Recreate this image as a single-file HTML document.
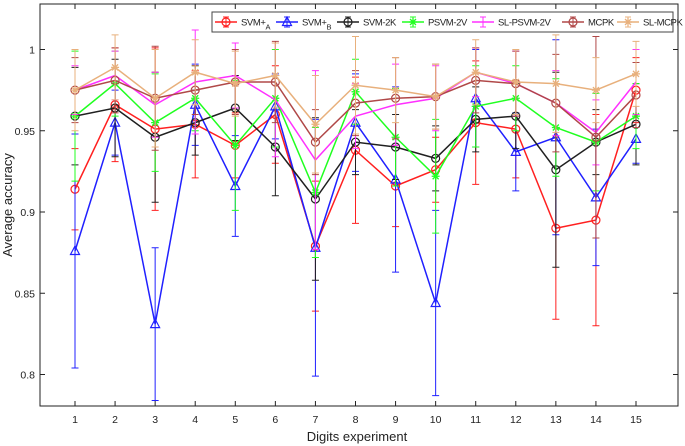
<!DOCTYPE html>
<html><head><meta charset="utf-8"><style>
html,body{margin:0;padding:0;background:#fff;width:685px;height:446px;overflow:hidden}
svg{font-family:"Liberation Sans",sans-serif}
</style></head><body>
<svg id="chart" width="685" height="446" viewBox="0 0 685 446"></svg>
<script>
const categories=[1,2,3,4,5,6,7,8,9,10,11,12,13,14,15];
const yTicks=[0.8,0.85,0.9,0.95,1];
const yTickLabels=["0.8","0.85","0.9","0.95","1"];
const svmA=[0.914,0.966,0.951,0.954,0.941,0.960,0.879,0.938,0.916,0.926,0.955,0.951,0.890,0.895,0.975];
const svmAErr=[0.025,0.035,0.05,0.033,0.02,0.03,0.04,0.045,0.025,0.02,0.038,0.03,0.056,0.065,0.02];
const svmB=[0.876,0.955,0.831,0.966,0.916,0.965,0.878,0.955,0.920,0.844,0.970,0.937,0.946,0.909,0.945];
const svmBErr=[0.072,0.02,0.047,0.025,0.031,0.02,0.079,0.03,0.057,0.057,0.03,0.024,0.06,0.042,0.015];
const svm2k=[0.959,0.964,0.946,0.955,0.964,0.940,0.908,0.943,0.940,0.933,0.957,0.959,0.926,0.943,0.954];
const svm2kErr=[0.03,0.03,0.04,0.02,0.02,0.03,0.05,0.02,0.02,0.02,0.02,0.02,0.06,0.02,0.025];
const psvm=[0.959,0.979,0.955,0.970,0.941,0.970,0.912,0.974,0.946,0.922,0.965,0.970,0.952,0.943,0.959];
const psvmErr=[0.04,0.02,0.03,0.02,0.04,0.03,0.04,0.02,0.03,0.035,0.025,0.02,0.03,0.03,0.02];
const slpsvm=[0.975,0.984,0.966,0.980,0.984,0.969,0.932,0.959,0.966,0.970,0.986,0.979,0.967,0.949,0.980];
const slpsvmErr=[0.015,0.015,0.02,0.032,0.02,0.035,0.055,0.02,0.025,0.02,0.015,0.02,0.02,0.02,0.02];
const mcpk=[0.975,0.981,0.970,0.975,0.980,0.980,0.943,0.967,0.970,0.971,0.981,0.979,0.967,0.946,0.972];
const mcpkErr=[0.02,0.02,0.032,0.015,0.02,0.025,0.02,0.02,0.025,0.02,0.02,0.02,0.03,0.062,0.02];
const slmcpk=[0.975,0.989,0.970,0.986,0.979,0.984,0.954,0.978,0.975,0.971,0.986,0.980,0.979,0.975,0.985];
const slmcpkErr=[0.025,0.02,0.03,0.02,0.02,0.02,0.03,0.03,0.02,0.02,0.02,0.02,0.03,0.02,0.02];
const seriesNames=["SVM+A","SVM+B","SVM-2K","PSVM-2V","SL-PSVM-2V","MCPK","SL-MCPK"];

const NS="http://www.w3.org/2000/svg";
const svg=document.getElementById("chart");
const L=40,R=678,T=4,B=406;
function xs(i){return 75+(i-1)*(636-75)/14;}
function ys(v){return 49.5+(1-v)*(374.5-49.5)/0.2;}
function mk(tag,attrs,parent){const e=document.createElementNS(NS,tag);for(const k in attrs)e.setAttribute(k,attrs[k]);(parent||svg).appendChild(e);return e;}

let frame=mk("rect",{x:L,y:T,width:R-L,height:B-T,fill:"none",stroke:"#222","stroke-width":1});


categories.forEach(c=>{
  const x=xs(c);
  mk("line",{x1:x,x2:x,y1:B,y2:B-5,stroke:"#222"});
  mk("line",{x1:x,x2:x,y1:T,y2:T+5,stroke:"#222"});
  const t=mk("text",{x:x,y:423,"font-size":10.5,"text-anchor":"middle",fill:"#222"});
  t.textContent=c;
  
  
});
yTicks.forEach((v,i)=>{
  const y=ys(v);
  mk("line",{x1:L,x2:L+5,y1:y,y2:y,stroke:"#222"});
  mk("line",{x1:R,x2:R-5,y1:y,y2:y,stroke:"#222"});
  const t=mk("text",{x:L-5,y:y+4,"font-size":10.5,"text-anchor":"end",fill:"#222"});
  t.textContent=yTickLabels[i];
  
  
});
let xt=mk("text",{x:357,y:441,"font-size":13,"text-anchor":"middle",fill:"#222"});
xt.textContent="Digits experiment";


let yt=mk("text",{x:0,y:0,"font-size":13,"text-anchor":"middle",fill:"#222",transform:"translate(12,205) rotate(-90)"});
yt.textContent="Average accuracy";



const series=[
 {vals:svmA,err:svmAErr,c:"#ff2020",m:"circle",name:"svm-plus-a"},
 {vals:svmB,err:svmBErr,c:"#2020ff",m:"tri",name:"svm-plus-b"},
 {vals:svm2k,err:svm2kErr,c:"#202020",m:"circle",name:"svm-2k"},
 {vals:psvm,err:psvmErr,c:"#20ff20",m:"star",name:"psvm-2v"},
 {vals:slpsvm,err:slpsvmErr,c:"#ff30ff",m:"none",name:"sl-psvm-2v"},
 {vals:mcpk,err:mcpkErr,c:"#b04848",m:"circle",name:"mcpk"},
 {vals:slmcpk,err:slmcpkErr,c:"#e8b07c",m:"star",name:"sl-mcpk"}
];
function marker(g,m,x,y,c){
  if(m==="circle")mk("circle",{cx:x,cy:y,r:4,fill:"none",stroke:c,"stroke-width":1.2},g);
  else if(m==="tri")mk("polygon",{points:`${x},${y-5} ${x-4.5},${y+3.5} ${x+4.5},${y+3.5}`,fill:"none",stroke:c,"stroke-width":1.2},g);
  else if(m==="star"){mk("path",{d:`M${x-4} ${y}H${x+4}M${x} ${y-4}V${y+4}M${x-3} ${y-3}L${x+3} ${y+3}M${x-3} ${y+3}L${x+3} ${y-3}`,stroke:c,"stroke-width":1.3},g);}
}
series.forEach(s=>{
  const g=mk("g",{});
  
  
  s.vals.forEach((v,i)=>{
    const x=xs(categories[i]),y1=ys(v+s.err[i]),y2=ys(v-s.err[i]);
    const eb=mk("path",{d:`M${x} ${y1}V${y2}M${x-3.5} ${y1}H${x+3.5}M${x-3.5} ${y2}H${x+3.5}`,stroke:s.c,"stroke-width":1,fill:"none"},g);
    
    
  });
  const pts=s.vals.map((v,i)=>xs(categories[i])+","+ys(v)).join(" ");
  const pl=mk("polyline",{points:pts,fill:"none",stroke:s.c,"stroke-width":1.5},g);
  
  
  s.vals.forEach((v,i)=>marker(g,s.m,xs(categories[i]),ys(v),s.c));
});

// legend
const lg=mk("g",{});


mk("rect",{x:212,y:12,width:461,height:20,fill:"#fff",stroke:"#444","stroke-width":1},lg);
const legX=[215,276,337,402,472,562,617];
seriesNames.forEach((n,i)=>{
  const s=series[i],x=legX[i],y=22;
  const e=mk("g",{},lg);
  
  
  mk("line",{x1:x,x2:x+22,y1:y,y2:y,stroke:s.c,"stroke-width":1.5},e);
  mk("path",{d:`M${x+11} ${y-5}V${y+5}M${x+8} ${y-5}H${x+14}M${x+8} ${y+5}H${x+14}`,stroke:s.c,fill:"none"},e);
  marker(e,s.m,x+11,y,s.c);
  const t=mk("text",{x:x+26,y:y+3.5,"font-size":9.5,"letter-spacing":-0.4,fill:"#222"},e);
  if(i<2){t.textContent="SVM+";const ts=mk("tspan",{"font-size":7.5,dy:4},t);ts.textContent=i===0?"A":"B";}
  else t.textContent=n;
});
</script>
</body></html>
